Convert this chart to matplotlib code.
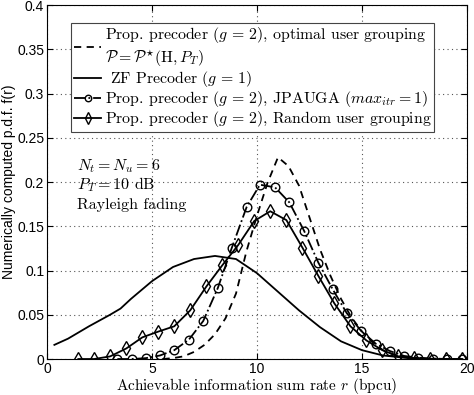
import matplotlib
matplotlib.use('Agg')
import matplotlib.pyplot as plt
from matplotlib.ticker import FuncFormatter

plt.rcParams['mathtext.fontset'] = 'cm'
plt.rcParams['axes.unicode_minus'] = False

# optimal user grouping (dashed)
opt_x = [5.5, 6.0, 6.5, 7.0, 7.5, 8.0, 8.5, 9.0, 9.5, 10.0, 10.5, 11.0, 11.5, 12.0,
         12.5, 13.0, 13.5, 14.0, 14.5, 15.0, 15.5, 16.0, 16.5, 17.0, 18.0, 19.0, 20.0]
opt_y = [0.0, 0.001, 0.003, 0.008, 0.016, 0.028, 0.046, 0.074, 0.122, 0.162, 0.199, 0.228,
         0.218, 0.196, 0.160, 0.124, 0.094, 0.068, 0.047, 0.031, 0.019, 0.010, 0.005, 0.002,
         0.0, 0.0, 0.0]

# ZF precoder (solid)
zf_x = [0.35, 1.0, 2.0, 3.0, 3.5, 4.0, 5.0, 6.0, 7.0, 8.0, 9.0, 10.0, 11.0, 12.0,
        13.0, 14.0, 15.0, 16.0, 17.0, 18.0]
zf_y = [0.016, 0.023, 0.037, 0.050, 0.057, 0.068, 0.088, 0.104, 0.113, 0.1165, 0.113,
        0.097, 0.076, 0.055, 0.036, 0.020, 0.010, 0.004, 0.0015, 0.0]

# JPAUGA (circles, dash-dot)
jp_x = [3.35, 4.03, 4.71, 5.38, 6.06, 6.76, 7.44, 8.13, 8.79, 9.51, 10.14, 10.86, 11.54,
        12.24, 12.92, 13.6, 14.27, 14.95, 15.67, 16.33, 17.0, 17.68, 18.4, 19.06, 19.75]
jp_y = [0.0, 0.0, 0.001, 0.004, 0.010, 0.022, 0.043, 0.080, 0.125, 0.172, 0.197, 0.194,
        0.177, 0.145, 0.109, 0.079, 0.052, 0.032, 0.017, 0.009, 0.0035, 0.0015, 0.0005, 0.0, 0.0]

# random user grouping (diamonds, solid)
rnd_x = [1.49, 2.25, 3.01, 3.78, 4.54, 5.30, 6.06, 6.82, 7.59, 8.35, 9.11, 9.87, 10.63,
         11.40, 12.16, 12.92, 13.68, 14.45, 15.21, 15.97, 16.73, 17.50, 18.26, 19.02, 19.78]
rnd_y = [0.0, 0.0, 0.003, 0.012, 0.0245, 0.031, 0.037, 0.055, 0.082, 0.106, 0.129, 0.156,
         0.167, 0.157, 0.126, 0.094, 0.063, 0.037, 0.021, 0.010, 0.003, 0.001, 0.0, 0.0, 0.0]

fig = plt.figure(figsize=(4.74, 3.95), dpi=100)
ax = fig.add_axes([0.0992, 0.0911, 0.886, 0.896])

lw = 1.3
ax.plot(opt_x, opt_y, 'k--', lw=lw, dashes=(4, 3),
        label='Prop. precoder ($g\\,=\\,2$), optimal user grouping\n'
              '$\\mathcal{P}=\\mathcal{P}^{\\star}(\\mathrm{H},P_T)$')
ax.plot(zf_x, zf_y, 'k-', lw=lw, label=' ZF Precoder ($g\\,=\\,1$)')
ax.plot(jp_x, jp_y, 'k-.', lw=lw, marker='o', ms=6.2, mfc='none', mew=1.0,
        label='Prop. precoder ($g\\,=\\,2$), JPAUGA ($max_{itr}=1$)')
ax.plot(rnd_x, rnd_y, 'k-', lw=lw, marker='d', ms=7.5, mfc='none', mew=1.0,
        label='Prop. precoder ($g\\,=\\,2$), Random user grouping')

ax.set_xlim(0, 20)
ax.set_ylim(0, 0.4)
ax.set_xticks([0, 5, 10, 15, 20])
ax.set_yticks([0, 0.05, 0.1, 0.15, 0.2, 0.25, 0.3, 0.35, 0.4])
ax.yaxis.set_major_formatter(FuncFormatter(lambda v, p: '%g' % v))
ax.grid(True, linestyle=(0, (1, 3)), color='#555555', lw=0.8)
ax.tick_params(direction='in', top=True, right=True, labelsize=10, length=4, pad=2)
for lab in ax.get_xticklabels() + ax.get_yticklabels():
    lab.set_fontfamily('Liberation Sans')

ax.set_ylabel('Numerically computed p.d.f. f(r)', fontfamily='Liberation Sans',
              fontsize=10, labelpad=1)
ax.set_xlabel('Achievable information sum rate $r$ (bpcu)', fontfamily='cmr10',
              fontsize=11, labelpad=0)

ax.text(1.45, 0.213, '$N_t = N_u = 6$', fontsize=11.5, fontfamily='cmr10')
ax.text(1.45, 0.192, '$P_T = 10$ dB', fontsize=11.5, fontfamily='cmr10')
ax.text(1.45, 0.170, 'Rayleigh fading', fontsize=11.5, fontfamily='cmr10')

leg = ax.legend(loc='upper left', bbox_to_anchor=(0.058, 0.95),
                prop={'family': 'cmr10', 'size': 11.4}, handlelength=1.75,
                handletextpad=0.2, borderpad=0.15, labelspacing=0.0, markerscale=0.75,
                fancybox=False, framealpha=1, edgecolor='#444444', borderaxespad=0)
leg.get_frame().set_linewidth(0.8)

fig.savefig('out.png', dpi=100)
